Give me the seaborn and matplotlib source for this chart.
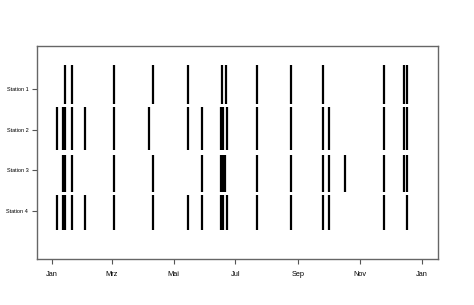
import numpy as np
import pandas as pd
import matplotlib
matplotlib.use("Agg")
import matplotlib.pyplot as plt
import seaborn as sns

# Event dates per station
station_1 = ["2021-01-14", "2021-01-21", "2021-03-03", "2021-04-11", "2021-05-15",
             "2021-06-18", "2021-06-22", "2021-07-22", "2021-08-25", "2021-09-25",
             "2021-11-24", "2021-12-14", "2021-12-17"]
station_2 = ["2021-01-06", "2021-01-12", "2021-01-14", "2021-01-21", "2021-02-03",
             "2021-03-03", "2021-04-07", "2021-05-15", "2021-05-29", "2021-06-17",
             "2021-06-19", "2021-06-23", "2021-07-22", "2021-08-25", "2021-09-25",
             "2021-10-01", "2021-11-24", "2021-12-14", "2021-12-17"]
station_3 = ["2021-01-12", "2021-01-14", "2021-01-21", "2021-03-03", "2021-04-11",
             "2021-05-29", "2021-06-17", "2021-06-19", "2021-06-21", "2021-07-22",
             "2021-08-25", "2021-09-25", "2021-10-01", "2021-10-17", "2021-11-24",
             "2021-12-14", "2021-12-17"]
station_4 = ["2021-01-06", "2021-01-12", "2021-01-14", "2021-01-21", "2021-02-03",
             "2021-03-03", "2021-04-11", "2021-05-15", "2021-05-29", "2021-06-17",
             "2021-06-19", "2021-06-23", "2021-07-22", "2021-08-25", "2021-09-25",
             "2021-10-01", "2021-11-24", "2021-12-17"]

stations = ["Station 1", "Station 2", "Station 3", "Station 4"]
events = [station_1, station_2, station_3, station_4]

tick_dates = ["2021-01-01", "2021-03-01", "2021-05-01", "2021-07-01",
              "2021-09-01", "2021-11-01", "2022-01-01"]
tick_labels = ["Jan", "Mrz", "Mai", "Jul", "Sep", "Nov", "Jan"]

# vertical extent of the bars for each station row (axis units)
bar_top = [0.40, 1.43, 2.62, 3.61]
bar_bottom = [1.35, 2.50, 3.53, 4.48]

sns.set_style("ticks")
plt.rcParams["font.family"] = ["Liberation Sans", "DejaVu Sans"]

fig = plt.figure(figsize=(4.74, 3.05), dpi=100)
ax = fig.add_axes([0.0774, 0.1508, 0.846, 0.6992])

for i, dates in enumerate(events):
    d = pd.to_datetime(dates)
    ax.vlines(d, bar_top[i], bar_bottom[i], color="black", lw=1.6)

ax.set_xlim(pd.Timestamp("2020-12-17 05:00"), pd.Timestamp("2022-01-16 05:00"))
ax.set_ylim(5.19, -0.08)

ax.set_xticks(pd.to_datetime(tick_dates))
ax.set_xticklabels(tick_labels, fontsize=5.3)
ax.set_yticks(range(1, 5))
ax.set_yticklabels(stations, fontsize=4.0)

ax.tick_params(axis="both", direction="out", length=3.5, width=0.8,
               color="#555555", labelcolor="black", pad=2.5)
ax.tick_params(axis="x", pad=5)
for s in ax.spines.values():
    s.set_visible(True)
    s.set_color("#666666")
    s.set_linewidth(1.0)

fig.savefig("out.png", dpi=100)
